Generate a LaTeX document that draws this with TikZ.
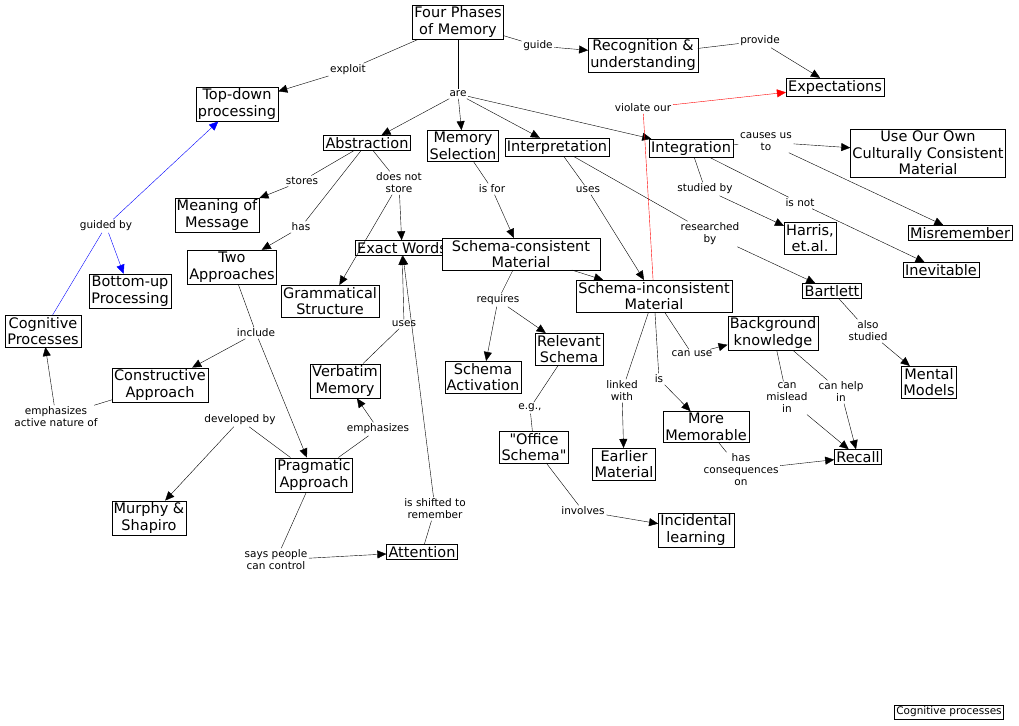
\documentclass[tikz,border=0pt]{standalone}
\usepackage{fontspec}
\setmainfont{DejaVu Sans}
\usetikzlibrary{arrows.meta,shapes}

\begin{document}
\begin{tikzpicture}[x=1pt,y=-1pt,
    concept/.style={draw, fill=white, align=center, inner sep=2pt, font=\fontsize{14.5}{16.5}\selectfont},
    link/.style={align=center, inner sep=1.5pt, font=\fontsize{10.5}{12}\selectfont},
    every edge/.style={draw, thin},
    to/.style={-{Triangle[length=9pt,width=8pt]}}]
    \useasboundingbox (0,0) rectangle (1019,725);
    % concepts
    \node[concept] (four) at (458,22) {Four Phases\\of Memory};
    \node[concept] (recog) at (643,55) {Recognition \&\\understanding};
    \node[concept] (expect) at (835,87) {Expectations};
    \node[concept] (topdown) at (237,104) {Top-down\\processing};
    \node[concept] (abstr) at (367,143) {Abstraction};
    \node[concept] (memsel) at (463,146) {Memory\\Selection};
    \node[concept] (interp) at (557,147) {Interpretation};
    \node[concept] (integ) at (691,148) {Integration};
    \node[concept] (useown) at (928,153) {Use Our Own\\Culturally Consistent\\Material};
    \node[concept] (meaning) at (217,215) {Meaning of\\Message};
    \node[concept] (exact) at (402,248) {Exact Words};
    \node[concept, minimum width=158pt] (schcons) at (521,254) {Schema-consistent\\Material};
    \node[concept] (harris) at (810,238) {Harris,\\et.al.};
    \node[concept] (misrem) at (960,233) {Misremember};
    \node[concept] (inevit) at (941,270) {Inevitable};
    \node[concept] (gramm) at (330,301) {Grammatical\\Structure};
    \node[concept] (twoapp) at (232,267) {Two\\Approaches};
    \node[concept] (bottomup) at (130,291) {Bottom-up\\Processing};
    \node[concept] (bartlett) at (832,291) {Bartlett};
    \node[concept] (cogproc) at (43,331) {Cognitive\\Processes};
    \node[concept] (relevant) at (569,349) {Relevant\\Schema};
    \node[concept] (background) at (773,333) {Background\\knowledge};
    \node[concept] (schincons) at (654,296) {Schema-inconsistent\\Material};
    \node[concept] (constructive) at (160,385) {Constructive\\Approach};
    \node[concept] (verbatim) at (345,381) {Verbatim\\Memory};
    \node[concept] (schact) at (483,377) {Schema\\Activation};
    \node[concept] (mental) at (929,382) {Mental\\Models};
    \node[concept] (moremem) at (706,427) {More\\Memorable};
    \node[concept] (office) at (534,447) {\textquotedbl Office\\Schema\textquotedbl};
    \node[concept] (earlier) at (624,464) {Earlier\\Material};
    \node[concept] (recall) at (858,457) {Recall};
    \node[concept] (pragmatic) at (314,475) {Pragmatic\\Approach};
    \node[concept] (murphy) at (149,518) {Murphy \&\\Shapiro};
    \node[concept] (incidental) at (696,530) {Incidental\\learning};
    \node[concept] (attention) at (422,552) {Attention};
    \node[concept, font=\fontsize{10.5}{12}\selectfont] (legend) at (949,712) {Cognitive processes};
    % linking phrases
    \node[link] (exploit) at (348,70) {exploit};
    \node[link] (guide) at (538,46) {guide};
    \node[link] (provide) at (760,41) {provide};
    \node[link] (are) at (458,94) {are};
    \node[link] (violate) at (643,108) {violate our};
    \node[link] (stores) at (302,181) {stores};
    \node[link] (notstore) at (399,183) {does not\\store};
    \node[link] (has) at (301,227) {has};
    \node[link] (isfor) at (492,189) {is for};
    \node[link] (uses1) at (588,190) {uses};
    \node[link] (studied) at (705,189) {studied by};
    \node[link] (researched) at (710,234) {researched\\by};
    \node[link] (causes) at (766,142) {causes us\\to};
    \node[link] (isnot) at (800,203) {is not};
    \node[link] (guided) at (106,226) {guided by};
    \node[link] (requires) at (498,300) {requires};
    \node[link] (uses2) at (404,324) {uses};
    \node[link] (include) at (256,333) {include};
    \node[link] (active) at (56,417) {emphasizes\\active nature of};
    \node[link] (developed) at (240,420) {developed by};
    \node[link] (emph) at (378,429) {emphasizes};
    \node[link] (eg) at (530,408) {e.g.,};
    \node[link] (linked) at (622,391) {linked\\with};
    \node[link] (is) at (659,379) {is};
    \node[link] (canuse) at (692,354) {can use};
    \node[link] (also) at (868,331) {also\\studied};
    \node[link] (mislead) at (787,398) {can\\mislead\\in};
    \node[link] (help) at (841,392) {can help\\in};
    \node[link] (conseq) at (741,470) {has\\consequences\\on};
    \node[link] (involves) at (583,511) {involves};
    \node[link] (shifted) at (435,509) {is shifted to\\remember};
    \node[link] (says) at (276,560) {says people\\can control};
    % connectors
    \path
      (four) edge (exploit) (exploit) edge[to] (topdown)
      (four) edge (guide) (guide) edge[to] (recog)
      (recog) edge (provide) (provide) edge[to] (expect)
      (four) edge (are)
      (are) edge[to] (abstr) (are) edge[to] (memsel)
      (are) edge[to] (interp) (are) edge[to] (integ)
      (abstr) edge (stores) (stores) edge[to] (meaning)
      (abstr) edge (notstore) (notstore) edge[to] (exact) (notstore) edge[to] (gramm)
      (abstr) edge (has) (has) edge[to] (twoapp)
      (memsel) edge (isfor) (isfor) edge[to] (schcons)
      (interp) edge (uses1) (uses1) edge[to] (schincons)
      (integ) edge (studied) (studied) edge[to] (harris)
      (interp) edge (researched) (researched) edge[to] (bartlett)
      (integ) edge (causes) (causes) edge[to] (useown) (causes) edge[to] (misrem)
      (integ) edge (isnot) (isnot) edge[to] (inevit)
      (schcons) edge (requires) (requires) edge[to] (schact) (requires) edge[to] (relevant)
      (schcons) edge[to] (schincons)
      (verbatim) edge (uses2) (uses2) edge[to] (exact)
      (twoapp) edge (include) (include) edge[to] (constructive) (include) edge[to] (pragmatic)
      (constructive) edge (active) (active) edge[to] (cogproc)
      (pragmatic) edge (developed) (developed) edge[to] (murphy)
      (pragmatic) edge (emph) (emph) edge[to] (verbatim)
      (relevant) edge (eg) (eg) edge (office)
      (schincons) edge (linked) (linked) edge[to] (earlier)
      (schincons) edge (is) (is) edge[to] (moremem)
      (schincons) edge (canuse) (canuse) edge[to] (background)
      (bartlett) edge (also) (also) edge[to] (mental)
      (background) edge (mislead) (mislead) edge[to] (recall)
      (background) edge (help) (help) edge[to] (recall)
      (moremem) edge (conseq) (conseq) edge[to] (recall)
      (office) edge (involves) (involves) edge[to] (incidental)
      (attention) edge (shifted) (shifted) edge[to] (exact)
      (pragmatic) edge (says) (says) edge[to] (attention);
    \path
      (cogproc) edge[blue] (guided) (guided) edge[blue, to] (topdown)
      (guided) edge[blue, to] (bottomup);
    \path
      (schincons) edge[red] (violate) (violate) edge[red, to] (expect);
\end{tikzpicture}
\end{document}
